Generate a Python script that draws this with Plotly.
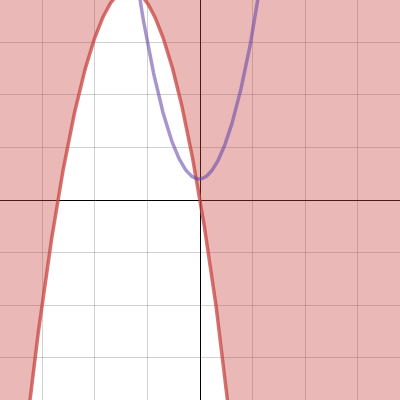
import numpy as np
import plotly.graph_objects as go

# red parabola y = a*x^2 + b*x + c (region above it is shaded)
red_coef = [-2.2, -5.94, 0.0]
# purple parabola
purple_coef = [2.7, 0.1, 0.4]

xs = np.linspace(-3.8, 3.8, 600)
red_y = np.polyval(red_coef, xs)
purple_y = np.polyval(purple_coef, xs)

fig = go.Figure()
# shaded region: from red curve to the top
fig.add_trace(go.Scatter(x=xs, y=red_y, mode="lines", line=dict(width=0),
                         showlegend=False, hoverinfo="skip"))
fig.add_trace(go.Scatter(x=xs, y=np.full_like(xs, 20), mode="lines", line=dict(width=0),
                         fill="tonexty", fillcolor="rgba(199,68,64,0.38)",
                         showlegend=False, hoverinfo="skip"))
fig.add_trace(go.Scatter(x=xs, y=red_y, mode="lines",
                         line=dict(color="#c74440", width=3.5), opacity=0.75, showlegend=False))
fig.add_trace(go.Scatter(x=xs, y=purple_y, mode="lines",
                         line=dict(color="#6042a6", width=3.5), opacity=0.55, showlegend=False))

ax = dict(range=[-3.8, 3.8], dtick=1, showticklabels=False, showgrid=True,
          gridcolor="rgba(0,0,0,0.18)", gridwidth=1, zeroline=True,
          zerolinecolor="black", zerolinewidth=1, fixedrange=True)
fig.update_layout(width=400, height=400, margin=dict(l=0, r=0, t=0, b=0),
                  plot_bgcolor="white", paper_bgcolor="white",
                  xaxis=ax, yaxis=dict(ax, range=[-3.8, 3.8]))
fig.write_html("out.html", config={"displayModeBar": False},
               post_script="document.body.style.margin='0';")
